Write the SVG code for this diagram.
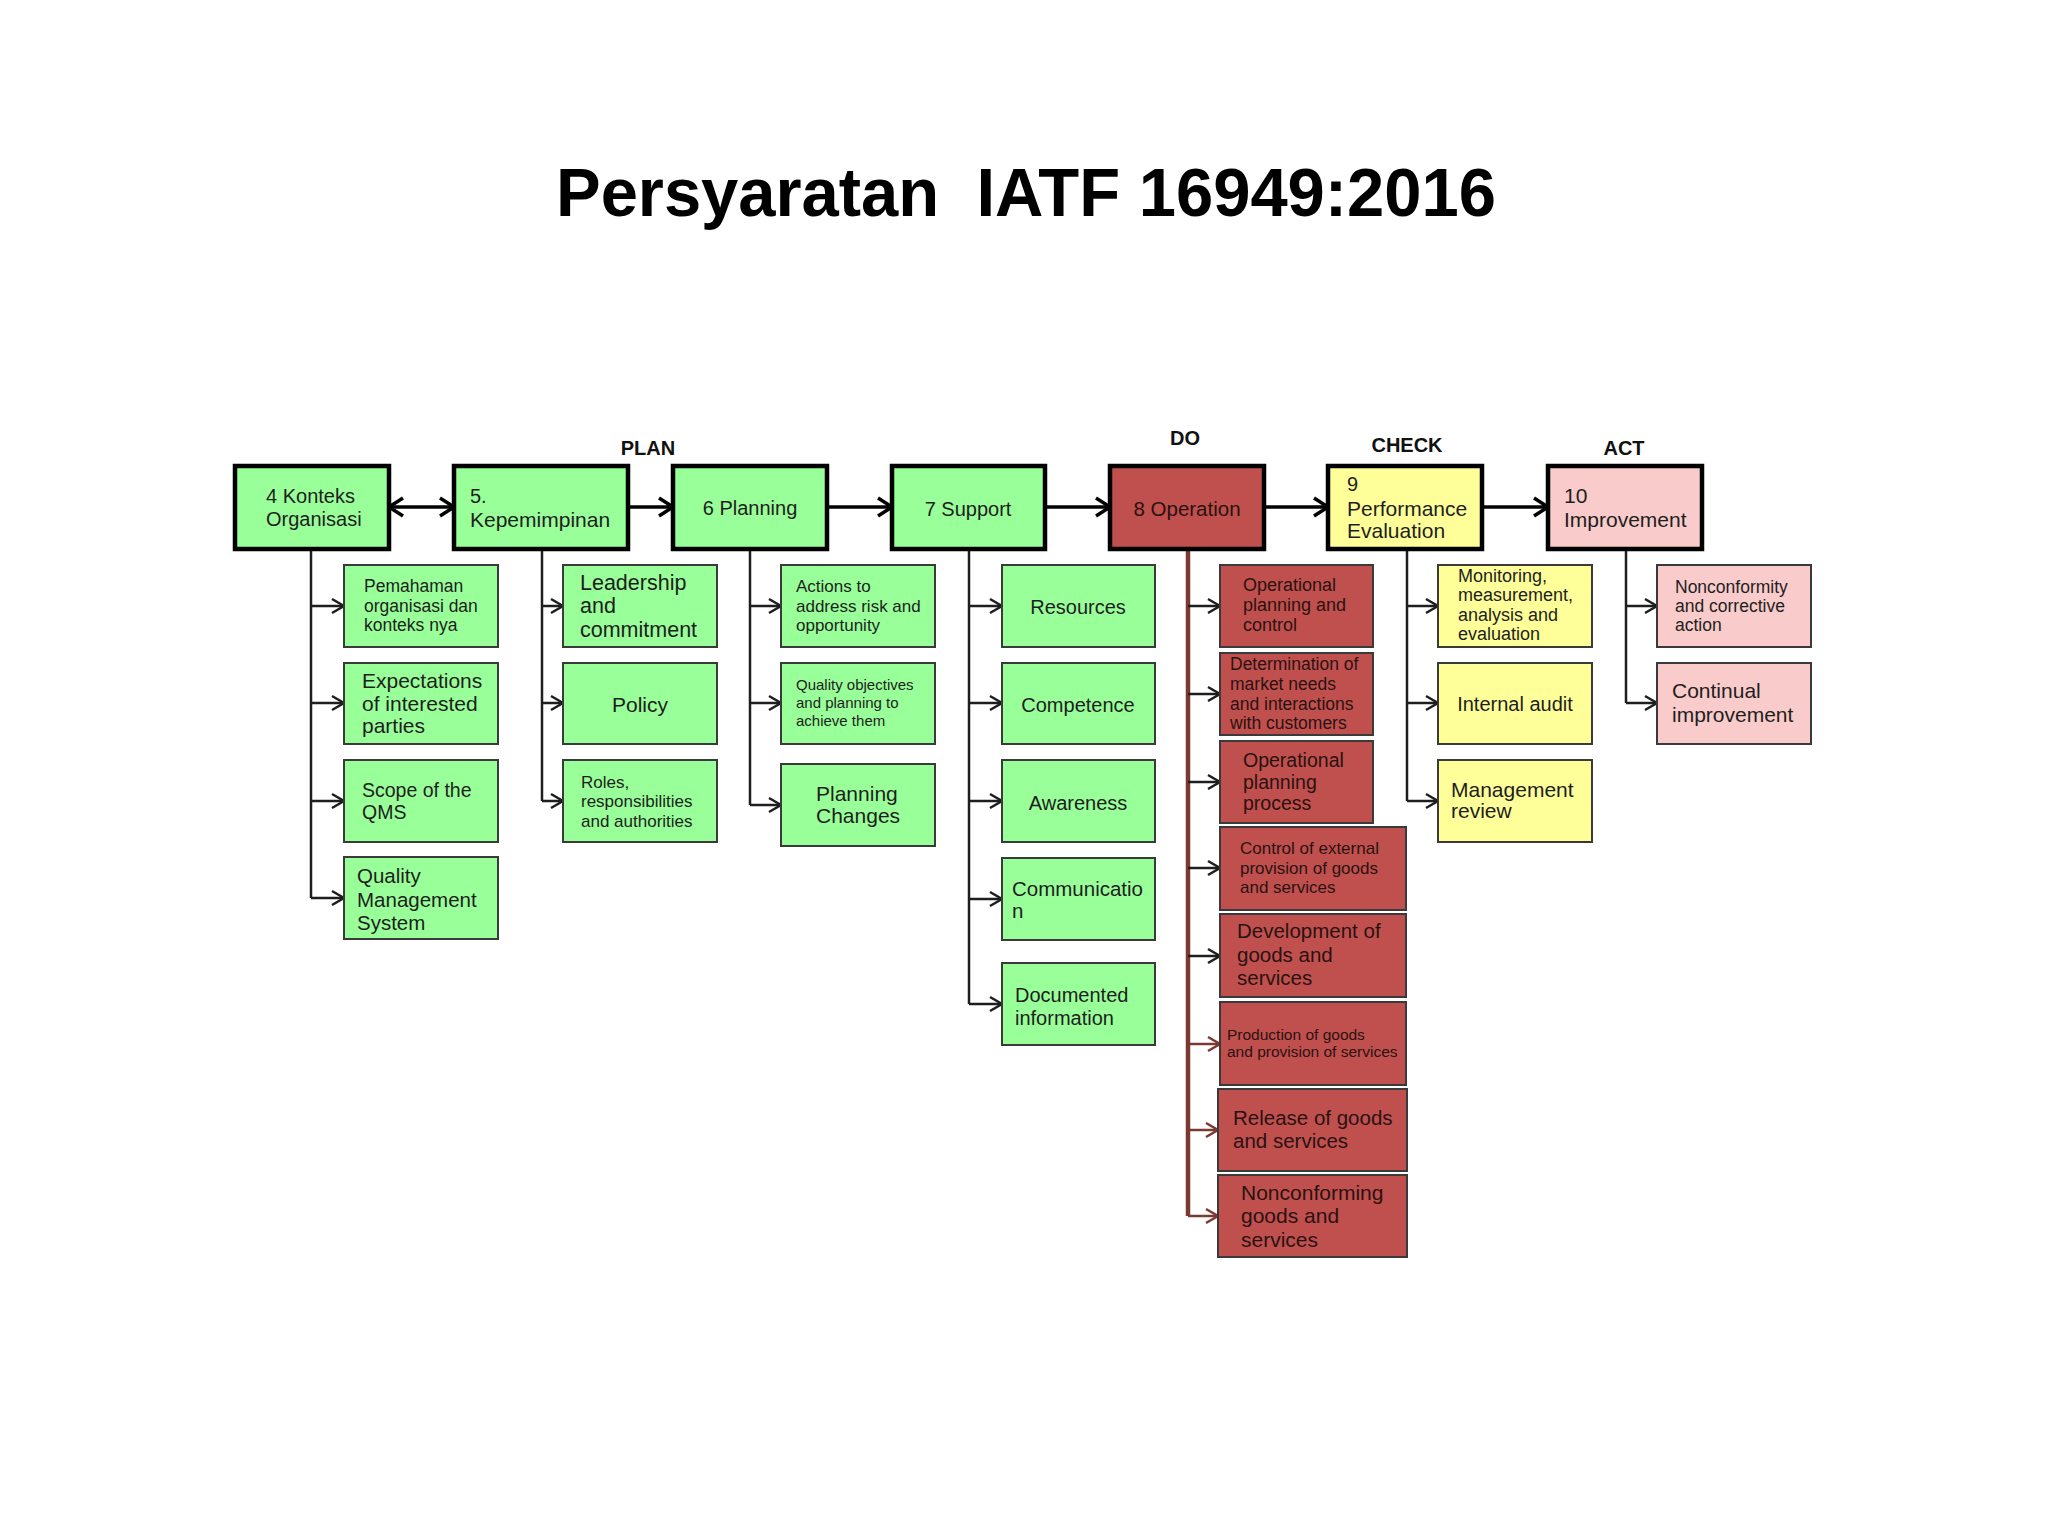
<svg xmlns="http://www.w3.org/2000/svg" width="2048" height="1536" viewBox="0 0 2048 1536">
<defs>
<style>
text{font-family:"Liberation Sans",Arial,sans-serif;fill:#1e1e1e}
.title{font-family:"Liberation Sans",Arial,sans-serif;font-weight:bold;font-size:68px;fill:#000}
.phase{font-weight:bold;font-size:20px;fill:#111;text-anchor:middle}
.main{stroke:#000;stroke-width:4.5}
.sub{stroke:#3a3a3a;stroke-width:2}
.g{fill:#99FF99}
.r{fill:#C0504D}
.y{fill:#FFFF99}
.p{fill:#F9CBCB}
.rt{fill:#2a1212}
.c{text-anchor:middle}
.ln{fill:none;stroke:#1e1e1e;stroke-width:2.5}
.lnb{fill:none;stroke:#7a3a32;stroke-width:2.5}
.trb{fill:none;stroke:#7a3a32;stroke-width:4.5}
.ml{fill:none;stroke:#000;stroke-width:3.5}
</style>
<marker id="ah" markerUnits="userSpaceOnUse" markerWidth="20" markerHeight="20" refX="15" refY="10" orient="auto-start-reverse" viewBox="0 0 20 20">
<path d="M3,3 L15,10 L3,17" fill="none" stroke="#1e1e1e" stroke-width="2.5"/>
</marker>
<marker id="ahb" markerUnits="userSpaceOnUse" markerWidth="20" markerHeight="20" refX="15" refY="10" orient="auto-start-reverse" viewBox="0 0 20 20">
<path d="M3,3 L15,10 L3,17" fill="none" stroke="#7a3a32" stroke-width="2.5"/>
</marker>
<marker id="ahm" markerUnits="userSpaceOnUse" markerWidth="24" markerHeight="24" refX="18" refY="12" orient="auto-start-reverse" viewBox="0 0 24 24">
<path d="M4,3 L18,12 L4,21" fill="none" stroke="#000" stroke-width="3.5"/>
</marker>
</defs>
<rect width="2048" height="1536" fill="#fff"/>
<text class="title" x="556" y="216" textLength="940" lengthAdjust="spacingAndGlyphs" xml:space="preserve">Persyaratan  IATF 16949:2016</text>

<g id="phases">
<text class="phase" x="648" y="455">PLAN</text>
<text class="phase" x="1185" y="445">DO</text>
<text class="phase" x="1407" y="452">CHECK</text>
<text class="phase" x="1624" y="455">ACT</text>
</g>

<g id="connectors">
<line class="ml" x1="389" y1="507" x2="454" y2="507" marker-start="url(#ahm)" marker-end="url(#ahm)"/>
<line class="ml" x1="628" y1="507" x2="673" y2="507" marker-end="url(#ahm)"/>
<line class="ml" x1="827" y1="507" x2="892" y2="507" marker-end="url(#ahm)"/>
<line class="ml" x1="1045" y1="507" x2="1110" y2="507" marker-end="url(#ahm)"/>
<line class="ml" x1="1264" y1="507" x2="1328" y2="507" marker-end="url(#ahm)"/>
<line class="ml" x1="1482" y1="507" x2="1548" y2="507" marker-end="url(#ahm)"/>
<!-- col1 -->
<path class="ln" d="M311,549 V898"/>
<line class="ln" x1="311" y1="606" x2="344" y2="606" marker-end="url(#ah)"/>
<line class="ln" x1="311" y1="703" x2="344" y2="703" marker-end="url(#ah)"/>
<line class="ln" x1="311" y1="801" x2="344" y2="801" marker-end="url(#ah)"/>
<line class="ln" x1="311" y1="898" x2="344" y2="898" marker-end="url(#ah)"/>
<!-- col2 -->
<path class="ln" d="M542,549 V801"/>
<line class="ln" x1="542" y1="606" x2="563" y2="606" marker-end="url(#ah)"/>
<line class="ln" x1="542" y1="703" x2="563" y2="703" marker-end="url(#ah)"/>
<line class="ln" x1="542" y1="801" x2="563" y2="801" marker-end="url(#ah)"/>
<!-- col3 -->
<path class="ln" d="M750,549 V805"/>
<line class="ln" x1="750" y1="606" x2="781" y2="606" marker-end="url(#ah)"/>
<line class="ln" x1="750" y1="703" x2="781" y2="703" marker-end="url(#ah)"/>
<line class="ln" x1="750" y1="805" x2="781" y2="805" marker-end="url(#ah)"/>
<!-- col4 -->
<path class="ln" d="M969,549 V1004"/>
<line class="ln" x1="969" y1="606" x2="1002" y2="606" marker-end="url(#ah)"/>
<line class="ln" x1="969" y1="703" x2="1002" y2="703" marker-end="url(#ah)"/>
<line class="ln" x1="969" y1="801" x2="1002" y2="801" marker-end="url(#ah)"/>
<line class="ln" x1="969" y1="899" x2="1002" y2="899" marker-end="url(#ah)"/>
<line class="ln" x1="969" y1="1004" x2="1002" y2="1004" marker-end="url(#ah)"/>
<!-- col5 -->
<path class="trb" d="M1188,549 V1216"/>
<line class="ln" x1="1188" y1="606" x2="1220" y2="606" marker-end="url(#ah)"/>
<line class="ln" x1="1188" y1="694" x2="1220" y2="694" marker-end="url(#ah)"/>
<line class="ln" x1="1188" y1="782" x2="1220" y2="782" marker-end="url(#ah)"/>
<line class="ln" x1="1188" y1="868" x2="1220" y2="868" marker-end="url(#ah)"/>
<line class="ln" x1="1188" y1="956" x2="1220" y2="956" marker-end="url(#ah)"/>
<line class="lnb" x1="1188" y1="1044" x2="1220" y2="1044" marker-end="url(#ahb)"/>
<line class="lnb" x1="1188" y1="1130" x2="1218" y2="1130" marker-end="url(#ahb)"/>
<line class="lnb" x1="1188" y1="1216" x2="1218" y2="1216" marker-end="url(#ahb)"/>
<!-- col6 -->
<path class="ln" d="M1407,549 V801"/>
<line class="ln" x1="1407" y1="606" x2="1438" y2="606" marker-end="url(#ah)"/>
<line class="ln" x1="1407" y1="703" x2="1438" y2="703" marker-end="url(#ah)"/>
<line class="ln" x1="1407" y1="801" x2="1438" y2="801" marker-end="url(#ah)"/>
<!-- col7 -->
<path class="ln" d="M1626,549 V703"/>
<line class="ln" x1="1626" y1="606" x2="1657" y2="606" marker-end="url(#ah)"/>
<line class="ln" x1="1626" y1="703" x2="1657" y2="703" marker-end="url(#ah)"/>
</g>

<!-- main nodes -->
<g id="n4"><rect class="main g" x="235" y="466" width="154" height="83"/>
<text x="266" y="503" font-size="20">4 Konteks</text><text x="266" y="526" font-size="20">Organisasi</text></g>
<g id="n5"><rect class="main g" x="454" y="466" width="174" height="83"/>
<text x="470" y="503" font-size="20">5.</text><text x="470" y="527" font-size="21">Kepemimpinan</text></g>
<g id="n6"><rect class="main g" x="673" y="466" width="154" height="83"/>
<text class="c" x="750" y="515" font-size="20">6 Planning</text></g>
<g id="n7"><rect class="main g" x="892" y="466" width="153" height="83"/>
<text class="c" x="968" y="516" font-size="20">7 Support</text></g>
<g id="n8"><rect class="main r" x="1110" y="466" width="154" height="83"/>
<text class="c rt" x="1187" y="516" font-size="20.5">8 Operation</text></g>
<g id="n9"><rect class="main y" x="1328" y="466" width="154" height="83"/>
<text x="1347" y="491" font-size="20">9</text><text x="1347" y="516" font-size="21">Performance</text><text x="1347" y="538" font-size="21">Evaluation</text></g>
<g id="n10"><rect class="main p" x="1548" y="466" width="154" height="83"/>
<text x="1564" y="503" font-size="21">10</text><text x="1564" y="527" font-size="21">Improvement</text></g>

<!-- col1 -->
<g id="n4-1"><rect class="sub g" x="344" y="565" width="154" height="82"/>
<text font-size="17.5"><tspan x="364" y="592">Pemahaman</tspan><tspan x="364" y="612">organisasi dan</tspan><tspan x="364" y="631">konteks nya</tspan></text></g>
<g id="n4-2"><rect class="sub g" x="344" y="663" width="154" height="81"/>
<text font-size="21"><tspan x="362" y="688">Expectations</tspan><tspan x="362" y="711">of interested</tspan><tspan x="362" y="733">parties</tspan></text></g>
<g id="n4-3"><rect class="sub g" x="344" y="760" width="154" height="82"/>
<text font-size="19.5"><tspan x="362" y="797">Scope of the</tspan><tspan x="362" y="819">QMS</tspan></text></g>
<g id="n4-4"><rect class="sub g" x="344" y="857" width="154" height="82"/>
<text font-size="20.5"><tspan x="357" y="883">Quality</tspan><tspan x="357" y="907">Management</tspan><tspan x="357" y="930">System</tspan></text></g>

<!-- col2 -->
<g id="n5-1"><rect class="sub g" x="563" y="565" width="154" height="82"/>
<text font-size="21.5"><tspan x="580" y="590">Leadership</tspan><tspan x="580" y="613">and</tspan><tspan x="580" y="637">commitment</tspan></text></g>
<g id="n5-2"><rect class="sub g" x="563" y="663" width="154" height="81"/>
<text class="c" x="640" y="712" font-size="21">Policy</text></g>
<g id="n5-3"><rect class="sub g" x="563" y="760" width="154" height="82"/>
<text font-size="17"><tspan x="581" y="788">Roles,</tspan><tspan x="581" y="807">responsibilities</tspan><tspan x="581" y="827">and authorities</tspan></text></g>

<!-- col3 -->
<g id="n6-1"><rect class="sub g" x="781" y="565" width="154" height="82"/>
<text font-size="17"><tspan x="796" y="592">Actions to</tspan><tspan x="796" y="612">address risk and</tspan><tspan x="796" y="631">opportunity</tspan></text></g>
<g id="n6-2"><rect class="sub g" x="781" y="663" width="154" height="81"/>
<text font-size="15"><tspan x="796" y="690">Quality objectives</tspan><tspan x="796" y="708">and planning to</tspan><tspan x="796" y="726">achieve them</tspan></text></g>
<g id="n6-3"><rect class="sub g" x="781" y="764" width="154" height="82"/>
<text font-size="21"><tspan x="816" y="801">Planning</tspan><tspan x="816" y="823">Changes</tspan></text></g>

<!-- col4 -->
<g id="n7-1"><rect class="sub g" x="1002" y="565" width="153" height="82"/>
<text class="c" x="1078" y="614" font-size="20">Resources</text></g>
<g id="n7-2"><rect class="sub g" x="1002" y="663" width="153" height="81"/>
<text class="c" x="1078" y="712" font-size="20">Competence</text></g>
<g id="n7-3"><rect class="sub g" x="1002" y="760" width="153" height="82"/>
<text class="c" x="1078" y="810" font-size="20">Awareness</text></g>
<g id="n7-4"><rect class="sub g" x="1002" y="858" width="153" height="82"/>
<text font-size="20.5"><tspan x="1012" y="896">Communicatio</tspan><tspan x="1012" y="918">n</tspan></text></g>
<g id="n7-5"><rect class="sub g" x="1002" y="963" width="153" height="82"/>
<text font-size="20"><tspan x="1015" y="1002">Documented</tspan><tspan x="1015" y="1025">information</tspan></text></g>

<!-- col5 -->
<g id="n8-1"><rect class="sub r" x="1220" y="565" width="153" height="82"/>
<text class="rt" font-size="18"><tspan x="1243" y="591">Operational</tspan><tspan x="1243" y="611">planning and</tspan><tspan x="1243" y="631">control</tspan></text></g>
<g id="n8-2"><rect class="sub r" x="1220" y="653" width="153" height="82"/>
<text class="rt" font-size="17.5"><tspan x="1230" y="670">Determination of</tspan><tspan x="1230" y="690">market needs</tspan><tspan x="1230" y="710">and interactions</tspan><tspan x="1230" y="729">with customers</tspan></text></g>
<g id="n8-3"><rect class="sub r" x="1220" y="741" width="153" height="82"/>
<text class="rt" font-size="19.5"><tspan x="1243" y="767">Operational</tspan><tspan x="1243" y="789">planning</tspan><tspan x="1243" y="810">process</tspan></text></g>
<g id="n8-4"><rect class="sub r" x="1220" y="827" width="186" height="83"/>
<text class="rt" font-size="17"><tspan x="1240" y="854">Control of external</tspan><tspan x="1240" y="874">provision of goods</tspan><tspan x="1240" y="893">and services</tspan></text></g>
<g id="n8-5"><rect class="sub r" x="1220" y="914" width="186" height="83"/>
<text class="rt" font-size="20.5"><tspan x="1237" y="938">Development of</tspan><tspan x="1237" y="962">goods and</tspan><tspan x="1237" y="985">services</tspan></text></g>
<g id="n8-6"><rect class="sub r" x="1220" y="1002" width="186" height="83"/>
<text class="rt" font-size="15.5"><tspan x="1227" y="1040">Production of goods</tspan><tspan x="1227" y="1057">and provision of services</tspan></text></g>
<g id="n8-7"><rect class="sub r" x="1218" y="1089" width="189" height="82"/>
<text class="rt" font-size="20.5"><tspan x="1233" y="1125">Release of goods</tspan><tspan x="1233" y="1148">and services</tspan></text></g>
<g id="n8-8"><rect class="sub r" x="1218" y="1175" width="189" height="82"/>
<text class="rt" font-size="21"><tspan x="1241" y="1200">Nonconforming</tspan><tspan x="1241" y="1223">goods and</tspan><tspan x="1241" y="1247">services</tspan></text></g>

<!-- col6 -->
<g id="n9-1"><rect class="sub y" x="1438" y="565" width="154" height="82"/>
<text font-size="18"><tspan x="1458" y="582">Monitoring,</tspan><tspan x="1458" y="601">measurement,</tspan><tspan x="1458" y="621">analysis and</tspan><tspan x="1458" y="640">evaluation</tspan></text></g>
<g id="n9-2"><rect class="sub y" x="1438" y="663" width="154" height="81"/>
<text class="c" x="1515" y="711" font-size="20">Internal audit</text></g>
<g id="n9-3"><rect class="sub y" x="1438" y="760" width="154" height="82"/>
<text font-size="21"><tspan x="1451" y="797">Management</tspan><tspan x="1451" y="818">review</tspan></text></g>

<!-- col7 -->
<g id="n10-1"><rect class="sub p" x="1657" y="565" width="154" height="82"/>
<text font-size="17.5"><tspan x="1675" y="593">Nonconformity</tspan><tspan x="1675" y="612">and corrective</tspan><tspan x="1675" y="631">action</tspan></text></g>
<g id="n10-2"><rect class="sub p" x="1657" y="663" width="154" height="81"/>
<text font-size="21"><tspan x="1672" y="698">Continual</tspan><tspan x="1672" y="722">improvement</tspan></text></g>
</svg>
